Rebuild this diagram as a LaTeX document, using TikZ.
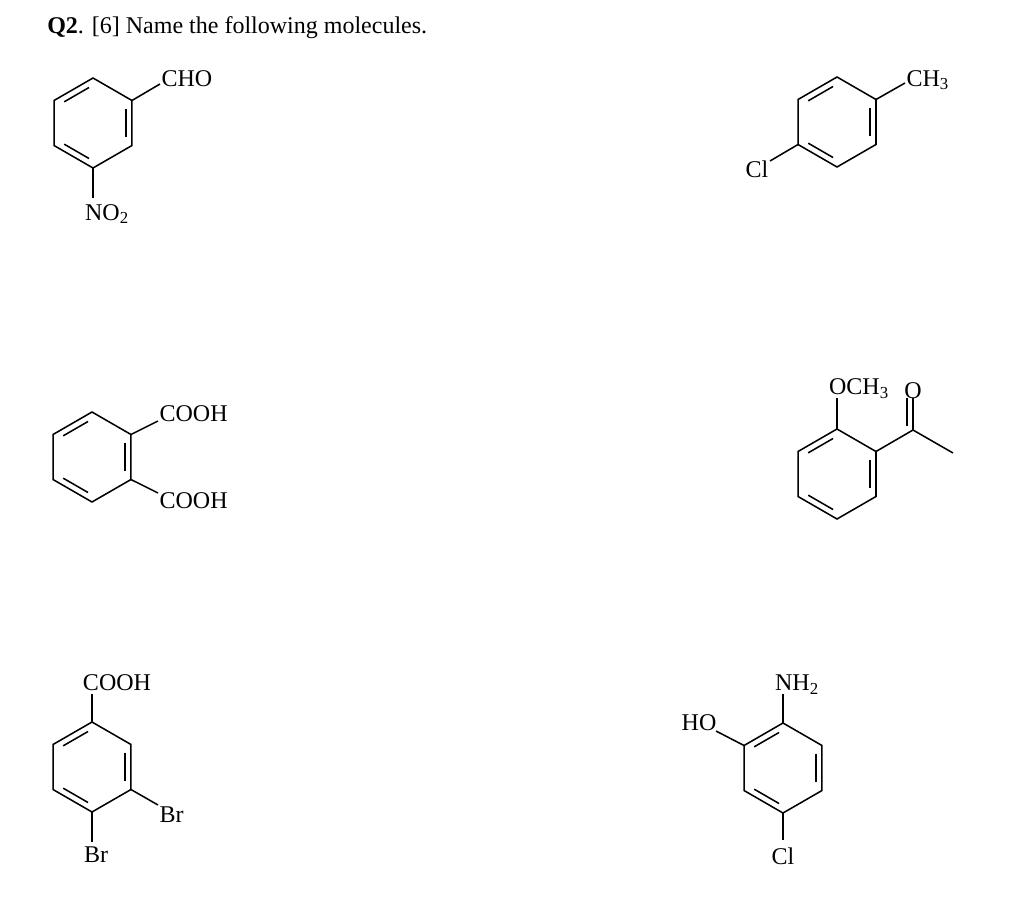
\documentclass[tikz,border=0pt]{standalone}
\usepackage{fontspec}
\setmainfont{Liberation Serif}
\usetikzlibrary{calc}
\newcommand\benz[3]{%
  \foreach \k in {0,...,5}{\coordinate (#1\k) at ($(#2,#3)+({270+60*\k}:45)$);}
  \coordinate (#1c) at (#2,#3);
  \draw[bond] (#10)--(#11)--(#12)--(#13)--(#14)--(#15)--cycle;
  \foreach \a/\b in {5/0,1/2,3/4}{
    \draw[bond] ($($(#1\a)!0.12!(#1\b)$)!0.16!(#1c)$) -- ($($(#1\a)!0.88!(#1\b)$)!0.16!(#1c)$);}
}
\tikzset{bond/.style={line width=1.15pt,line join=miter},
  lab/.style={font=\fontsize{18}{19}\selectfont,inner sep=1pt}}
\begin{document}
\begin{tikzpicture}[x=0.75pt,y=-0.75pt]
\useasboundingbox (0,0) rectangle (1024,910);
\node[anchor=base west,inner sep=0pt,font=\fontsize{18}{19}\selectfont] (title) at (47,33) {\textbf{Q2}. [6] Name the following molecules.};
% mol 1
\benz{a}{93}{123}
\coordinate (a7) at (160,84); \node[lab,anchor=west] (cho) at ($(a7)+(0,-5)$) {CHO};
\draw[bond] (a1)--(a7);
\coordinate (a8) at (93,198); \node[lab,anchor=north] (no2) at ($(a8)+(14,5)$) {NO\textsubscript{2}};
\draw[bond] (a3)--(a8);
% mol 4
\benz{d}{837}{122}
\coordinate (d7) at (905,83); \node[lab,anchor=west] (ch3) at ($(d7)+(0,-3)$) {CH\textsubscript{3}};
\draw[bond] (d1)--(d7);
\coordinate (d8) at (770,161); \node[lab,anchor=east] (cl1) at ($(d8)+(0,8)$) {Cl};
\draw[bond] (d4)--(d8);
% mol 2
\benz{b}{92}{457}
\coordinate (b7) at (158,421); \node[lab,anchor=west] (co1) at ($(b7)+(0,-7)$) {COOH};
\coordinate (b8) at (158,493); \node[lab,anchor=west] (co2) at ($(b8)+(0,8)$) {COOH};
\draw[bond] (b1)--(b7); \draw[bond] (b2)--(b8);
% mol 5
\benz{e}{837}{474}
\coordinate (e7) at (837,398); \node[lab,anchor=south] (och) at ($(e7)+(22,2)$) {OCH\textsubscript{3}};
\draw[bond] (e0)--(e7);
\coordinate (e8) at (913,430); \coordinate (e9) at (913,398); \coordinate (e10) at (953,453);
\node[lab,anchor=south] (oo) at ($(e9)+(0,2)$) {O};
\draw[bond] (e1)--(e8)--(e10);
\draw[bond] (e8)--(e9);
\draw[bond] ($(e8)+(-6,-4)$)--($(e9)+(-6,0)$);
% mol 3
\benz{c}{92}{767}
\coordinate (c7) at (92,694); \node[lab,anchor=south] (cooh) at ($(c7)+(25,-2)$) {COOH};
\draw[bond] (c0)--(c7);
\coordinate (c8) at (158,805); \node[lab,anchor=west] (br1) at ($(c8)+(0,10)$) {Br};
\draw[bond] (c2)--(c8);
\coordinate (c9) at (92,842); \node[lab,anchor=north] (br2) at ($(c9)+(4,3)$) {Br};
\draw[bond] (c3)--(c9);
% mol 6
\benz{f}{783}{768}
\coordinate (f7) at (783,694); \node[lab,anchor=south] (nh2) at ($(f7)+(14,2)$) {NH\textsubscript{2}};
\draw[bond] (f0)--(f7);
\coordinate (f8) at (716,731); \node[lab,anchor=east] (ho) at ($(f8)+(2,-8)$) {HO};
\draw[bond] (f5)--(f8);
\coordinate (f9) at (783,840); \node[lab,anchor=north] (cl2) at ($(f9)+(0,6)$) {Cl};
\draw[bond] (f3)--(f9);
\end{tikzpicture}
\end{document}
